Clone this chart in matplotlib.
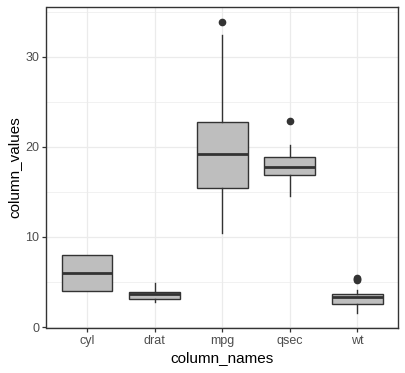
import matplotlib
matplotlib.use("Agg")
import matplotlib.pyplot as plt

plt.rcParams['font.family'] = ['Liberation Sans', 'DejaVu Sans']

# --- Data (box stats per column) ---
names = ["cyl", "drat", "mpg", "qsec", "wt"]
q1 = [4.0, 3.08, 15.43, 16.89, 2.58]
medians = [6.0, 3.70, 19.2, 17.71, 3.33]
q3 = [8.0, 3.92, 22.8, 18.9, 3.61]
whisk_lo = [4.0, 2.76, 10.4, 14.5, 1.51]
whisk_hi = [8.0, 4.93, 32.4, 20.22, 4.07]
outliers = [[], [], [33.9], [22.9], [5.25, 5.345, 5.424]]

stats = []
for i, n in enumerate(names):
    stats.append(dict(label=n, q1=q1[i], med=medians[i], q3=q3[i],
                      whislo=whisk_lo[i], whishi=whisk_hi[i], fliers=outliers[i]))

fig = plt.figure(figsize=(4.06, 3.73), dpi=100)
ax = fig.add_axes([46.5 / 406, 1 - 328 / 373, (398 - 46.5) / 406, (328 - 7) / 373])

edge = "#333333"
ax.bxp(stats, positions=range(1, len(names) + 1), widths=0.75, patch_artist=True,
       showcaps=False,
       boxprops=dict(facecolor="#BEBEBE", edgecolor=edge, linewidth=1.0),
       medianprops=dict(color=edge, linewidth=2.0),
       whiskerprops=dict(color=edge, linewidth=1.0),
       flierprops=dict(marker='o', markerfacecolor=edge, markeredgecolor=edge,
                       markersize=4.5, linestyle='none'),
       zorder=3)

ax.set_xlim(0.4, 5.6)
ax.set_ylim(-0.11, 35.52)
ax.set_yticks([0, 10, 20, 30])
ax.set_yticks([5, 15, 25, 35], minor=True)
ax.set_xticks(range(1, len(names) + 1))
ax.set_xticklabels(names)

ax.grid(True, which='major', color="#EBEBEB", linewidth=0.9, zorder=0)
ax.grid(True, which='minor', axis='y', color="#EBEBEB", linewidth=0.5, zorder=0)
ax.set_axisbelow(True)

for s in ax.spines.values():
    s.set_color(edge)
    s.set_linewidth(1.0)

ax.tick_params(axis='both', which='major', colors=edge, labelcolor="#4D4D4D",
               labelsize=9, length=3, width=0.9, pad=2)
ax.tick_params(axis='y', which='minor', length=0)

ax.set_xlabel("column_names", fontsize=11, color="black", labelpad=3)
ax.set_ylabel("column_values", fontsize=11, color="black", labelpad=3)

fig.savefig("out.png", dpi=100)
